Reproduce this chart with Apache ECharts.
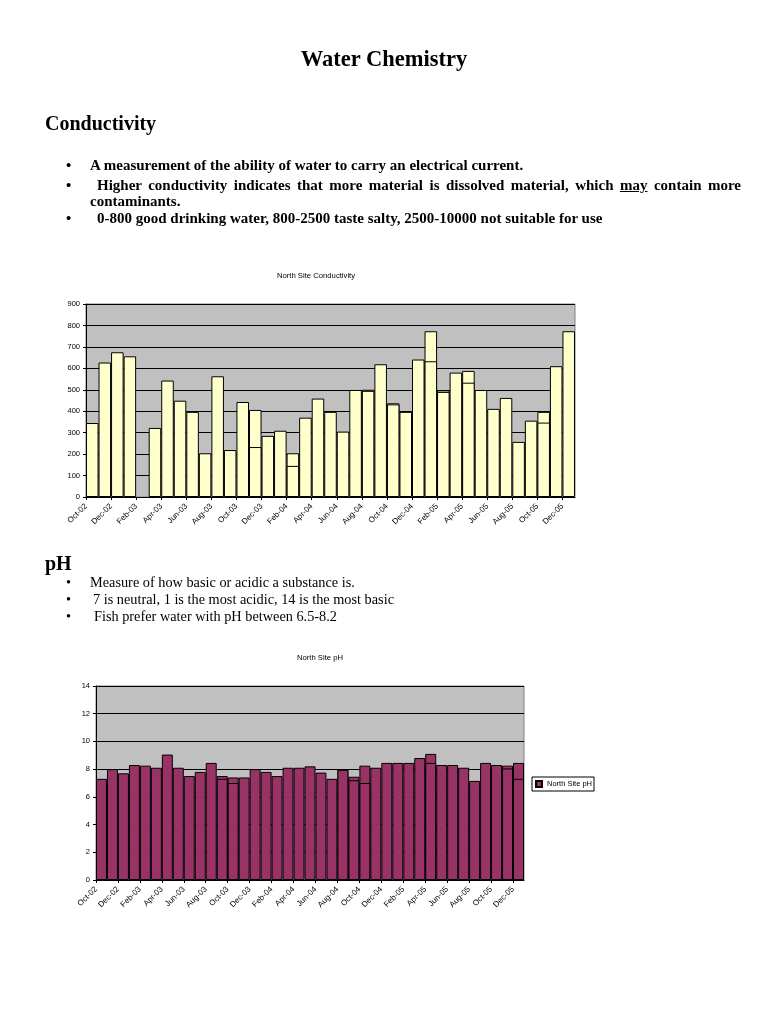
<!DOCTYPE html>
<html>
<head>
<meta charset="utf-8">
<script src="https://cdn.jsdelivr.net/npm/echarts@6/dist/echarts.min.js"></script>
<style>
  html, body { margin: 0; padding: 0; background: #fff; }
  #page { position: relative; width: 768px; height: 1024px; overflow: hidden; }
  #chart { position: absolute; left: 0; top: 0; width: 768px; height: 1024px; }
  .t { position: absolute; white-space: pre; font-family: "Liberation Serif", "Times New Roman", serif; color: #000; z-index: 2; }
  .b { font-weight: bold; }
  .j { white-space: nowrap; text-align: justify; text-align-last: justify; }
</style>
</head>
<body>
<div id="page">
  <div id="chart"></div>
  <div class="t b" style="left:0;width:768px;text-align:center;top:48px;font-size:22.5px;line-height:22.5px;">Water Chemistry</div>
  <div class="t b" style="left:45px;top:113px;font-size:20px;line-height:20px;">Conductivity</div>

  <div class="t b" style="left:66px;top:158px;font-size:15px;line-height:15px;">•</div>
  <div class="t b" style="left:90px;top:158px;font-size:15px;line-height:15px;">A measurement of the ability of water to carry an electrical current.</div>
  <div class="t b" style="left:66px;top:178px;font-size:15px;line-height:15px;">•</div>
  <div class="t b j" style="left:97px;width:644px;top:178px;font-size:15px;line-height:15px;">Higher conductivity indicates that more material is dissolved material, which <u>may</u> contain more</div>
  <div class="t b" style="left:90px;top:194px;font-size:15px;line-height:15px;">contaminants.</div>
  <div class="t b" style="left:66px;top:211px;font-size:15px;line-height:15px;">•</div>
  <div class="t b" style="left:97px;top:211px;font-size:15px;line-height:15px;">0-800 good drinking water, 800-2500 taste salty, 2500-10000 not suitable for use</div>

  <div class="t b" style="left:45px;top:553px;font-size:20px;line-height:20px;">pH</div>
  <div class="t" style="left:66px;top:575px;font-size:14.3px;line-height:14.3px;">•</div>
  <div class="t" style="left:90px;top:575px;font-size:14.3px;line-height:14.3px;">Measure of how basic or acidic a substance is.</div>
  <div class="t" style="left:66px;top:592px;font-size:14.3px;line-height:14.3px;">•</div>
  <div class="t" style="left:93px;top:592px;font-size:14.3px;line-height:14.3px;">7 is neutral, 1 is the most acidic, 14 is the most basic</div>
  <div class="t" style="left:66px;top:609px;font-size:14.3px;line-height:14.3px;">•</div>
  <div class="t" style="left:94px;top:609px;font-size:14.3px;line-height:14.3px;">Fish prefer water with pH between 6.5-8.2</div>
</div>
<script>
// ---- data ----
const months = ['Oct-02','Nov-02','Dec-02','Jan-03','Feb-03','Mar-03','Apr-03','May-03','Jun-03','Jul-03',
  'Aug-03','Sep-03','Oct-03','Nov-03','Dec-03','Jan-04','Feb-04','Mar-04','Apr-04','May-04',
  'Jun-04','Jul-04','Aug-04','Sep-04','Oct-04','Nov-04','Dec-04','Jan-05','Feb-05','Mar-05',
  'Apr-05','May-05','Jun-05','Jul-05','Aug-05','Sep-05','Oct-05','Nov-05','Dec-05'];
// tick labels sit on month boundaries (one more boundary than months)
const tickLabels = months.concat(['']);

// first (taller) reading per month
const conductivity = [345, 627, 675, 656, null, 322, 543, 449, 397, 204,
  563, 219, 443, 406, 285, 309, 204, 370, 459, 397,
  305, 499, 500, 619, 437, 397, 641, 773, 497, 580,
  588, 499, 411, 462, 257, 356, 397, 610, 773];
// second reading in the same month (drawn over the first)
const conductivity2 = [null, null, null, null, null, null, null, null, null, null,
  null, null, null, 233, null, null, 145, null, null, null,
  null, null, 495, null, 432, null, null, 633, 490, null,
  533, null, null, null, null, null, 347, null, null];

const ph = [7.3, 8.0, 7.7, 8.3, 8.25, 8.1, 9.05, 8.1, 7.5, 7.8,
  8.45, 7.5, 7.4, 7.4, 8.0, 7.8, 7.5, 8.1, 8.1, 8.2,
  7.75, 7.3, 8.0, 7.45, 8.25, 8.1, 8.45, 8.45, 8.45, 8.8,
  9.1, 8.3, 8.3, 8.1, 7.15, 8.45, 8.3, 8.25, 8.45];
const ph2 = [null, null, null, null, null, null, null, null, null, null,
  null, 7.3, 7.0, null, null, null, null, null, null, null,
  null, null, 7.95, 7.2, 7.0, null, null, null, null, null,
  8.45, null, null, null, null, null, null, 8.05, 7.3];

const condTicks = { min: 0, max: 900, interval: 100 };
const phTicks = { min: 0, max: 14, interval: 2 };

// ---- chart ----
const chart = echarts.init(document.getElementById('chart'), null, { renderer: 'canvas' });
const sans = '"Liberation Sans", Arial, sans-serif';
const smallFont = { fontFamily: sans, fontSize: 7.5, color: '#000' };

function barAxis(g) {
  return { type: 'category', gridIndex: g, data: months, boundaryGap: true, position: 'bottom',
    axisLine: { show: true, onZero: false, lineStyle: { color: '#000', width: 1 } },
    axisTick: { show: false }, axisLabel: { show: false }, splitLine: { show: false } };
}
function labelAxis(g) {
  return { type: 'category', gridIndex: g, data: tickLabels, boundaryGap: false, position: 'bottom',
    axisLine: { show: false, onZero: false },
    axisTick: { show: true, interval: 1, length: 3, lineStyle: { color: '#000' } },
    axisLabel: Object.assign({ interval: 1, rotate: 45, margin: 8 }, smallFont, { fontSize: 8 }),
    splitLine: { show: false } };
}
function valAxis(g, t) {
  return { type: 'value', gridIndex: g, min: t.min, max: t.max, interval: t.interval,
    axisLine: { show: true, lineStyle: { color: '#000', width: 1 } },
    axisTick: { show: true, length: 3, lineStyle: { color: '#000' } },
    axisLabel: Object.assign({ margin: 6 }, smallFont),
    splitLine: { show: true, lineStyle: { color: '#000', width: 1 } } };
}
const condStyle = { color: '#ffffcc', borderColor: '#000', borderWidth: 1 };
const phStyle = { color: '#993366', borderColor: '#000', borderWidth: 1 };

chart.setOption({
  animation: false,
  backgroundColor: 'transparent',
  graphic: [
    { type: 'text', x: 316, y: 276, style: { text: 'North Site Conductivity', align: 'center', verticalAlign: 'middle', font: '7.7px ' + sans, fill: '#000' } },
    { type: 'text', x: 320, y: 658, style: { text: 'North Site pH', align: 'center', verticalAlign: 'middle', font: '7.7px ' + sans, fill: '#000' } }
  ],
  grid: [
    { left: 86, top: 304, width: 489, height: 193, show: true, backgroundColor: '#c0c0c0', borderColor: '#808080', borderWidth: 1, containLabel: false, outerBoundsMode: 'none' },
    { left: 96, top: 686, width: 428, height: 194, show: true, backgroundColor: '#c0c0c0', borderColor: '#808080', borderWidth: 1, containLabel: false, outerBoundsMode: 'none' }
  ],
  xAxis: [barAxis(0), labelAxis(0), barAxis(1), labelAxis(1)],
  yAxis: [valAxis(0, condTicks), valAxis(1, phTicks)],
  legend: {
    show: true, data: ['North Site pH'], left: 532, top: 777, orient: 'vertical',
    itemWidth: 6, itemHeight: 6, icon: 'rect', padding: [3, 2, 3, 3],
    borderColor: '#000', borderWidth: 1, backgroundColor: '#fff',
    textStyle: Object.assign({}, smallFont, { fontSize: 7.5 })
  },
  tooltip: { show: false },
  series: [
    { name: 'North Site Conductivity', type: 'bar', xAxisIndex: 0, yAxisIndex: 0, data: conductivity,
      barCategoryGap: 0, barGap: '-100%', itemStyle: condStyle },
    { name: 'North Site Conductivity (second reading)', type: 'bar', xAxisIndex: 0, yAxisIndex: 0, data: conductivity2,
      barCategoryGap: 0, barGap: '-100%', itemStyle: condStyle },
    { name: 'North Site pH', type: 'bar', xAxisIndex: 2, yAxisIndex: 1, data: ph,
      barCategoryGap: 0, barGap: '-100%', itemStyle: phStyle },
    { name: 'North Site pH (second reading)', type: 'bar', xAxisIndex: 2, yAxisIndex: 1, data: ph2,
      barCategoryGap: 0, barGap: '-100%', itemStyle: phStyle }
  ]
});
</script>
</body>
</html>
